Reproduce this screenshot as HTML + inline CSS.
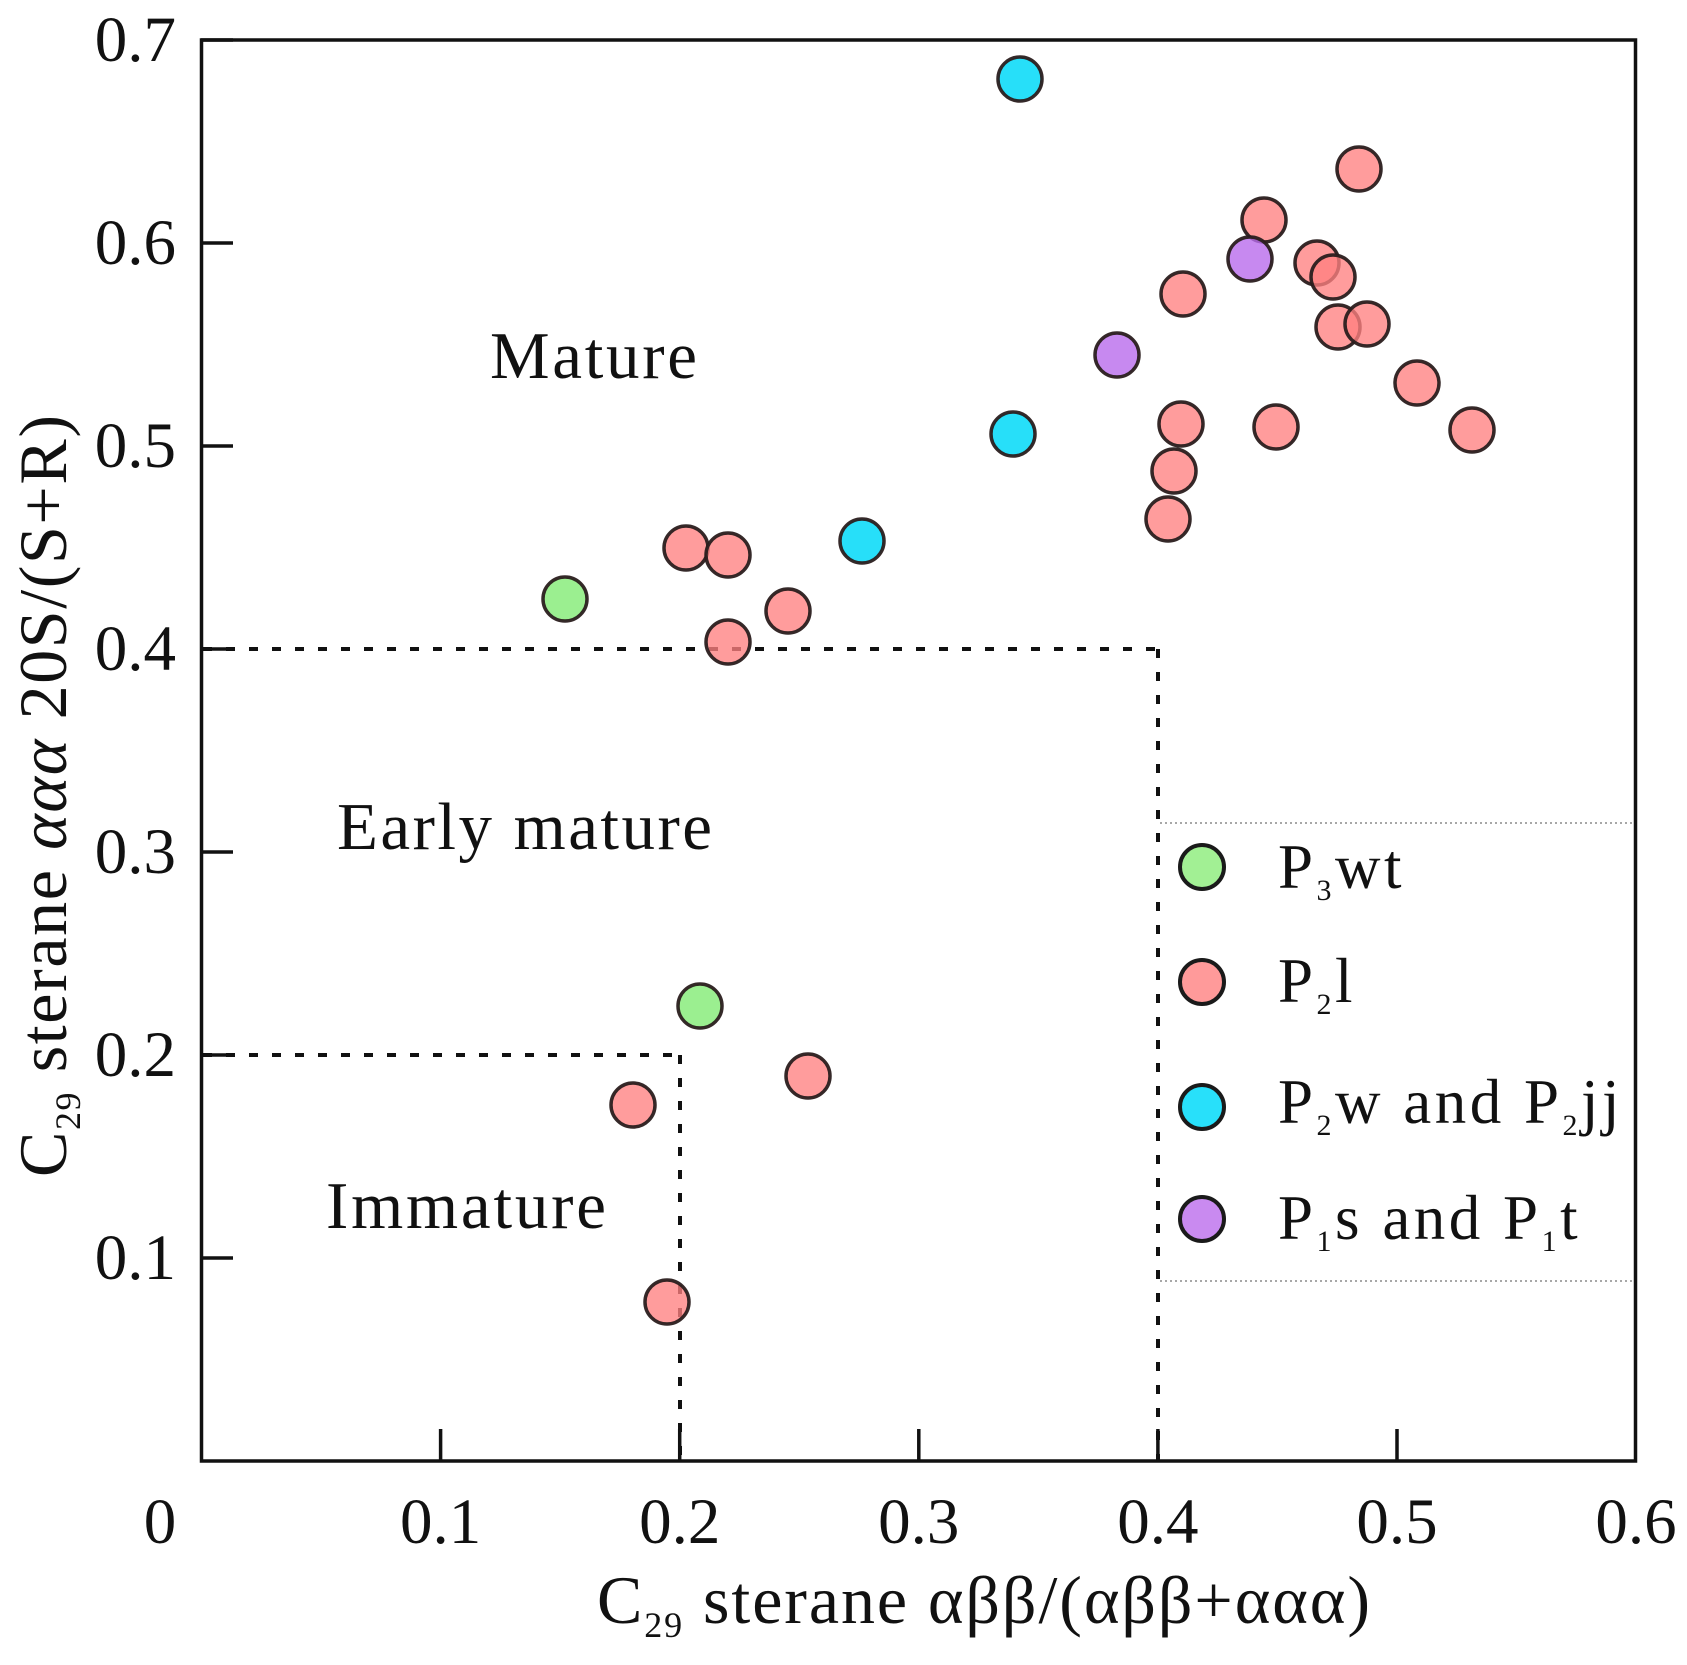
<!DOCTYPE html>
<html>
<head>
<meta charset="utf-8">
<style>
  html, body { margin: 0; padding: 0; background: #ffffff; }
  svg { display: block; }
  text { font-family: "Liberation Serif", "DejaVu Serif", serif; fill: #111; }
</style>
</head>
<body>
<svg width="1687" height="1665" viewBox="0 0 1687 1665" xmlns="http://www.w3.org/2000/svg">
  <rect x="0" y="0" width="1687" height="1665" fill="#ffffff"/>

  <!-- boundary dashed lines -->
  <g stroke="#111" stroke-width="4" stroke-dasharray="9 14" fill="none">
    <line x1="203" y1="649" x2="1158" y2="649"/>
    <line x1="1158" y1="649" x2="1158" y2="1461"/>
    <line x1="203" y1="1055" x2="680" y2="1055"/>
    <line x1="680" y1="1055" x2="680" y2="1461"/>
  </g>

  <!-- legend dotted box lines -->
  <g stroke="#8a8a8a" stroke-width="1.6" stroke-dasharray="2 3" fill="none">
    <line x1="1160" y1="823" x2="1633" y2="823"/>
    <line x1="1160" y1="1281" x2="1633" y2="1281"/>
  </g>

  <!-- axes box -->
  <rect x="201.5" y="40" width="1434" height="1421" fill="none" stroke="#111" stroke-width="3.5"/>

  <!-- y ticks -->
  <g stroke="#111" stroke-width="3.5">
    <line x1="201" y1="1258" x2="233" y2="1258"/>
    <line x1="201" y1="1055" x2="233" y2="1055"/>
    <line x1="201" y1="852" x2="233" y2="852"/>
    <line x1="201" y1="649" x2="233" y2="649"/>
    <line x1="201" y1="446" x2="233" y2="446"/>
    <line x1="201" y1="243" x2="233" y2="243"/>
    <line x1="201" y1="40" x2="233" y2="40"/>
  </g>
  <!-- x ticks -->
  <g stroke="#111" stroke-width="3.5">
    <line x1="440.6" y1="1461" x2="440.6" y2="1429"/>
    <line x1="679.7" y1="1461" x2="679.7" y2="1429"/>
    <line x1="918.8" y1="1461" x2="918.8" y2="1429"/>
    <line x1="1157.9" y1="1461" x2="1157.9" y2="1429"/>
    <line x1="1397" y1="1461" x2="1397" y2="1429"/>
  </g>

  <!-- y tick labels -->
  <g font-size="65" text-anchor="end">
    <text x="176" y="61">0.7</text>
    <text x="176" y="264">0.6</text>
    <text x="176" y="467">0.5</text>
    <text x="176" y="670">0.4</text>
    <text x="176" y="873">0.3</text>
    <text x="176" y="1076">0.2</text>
    <text x="176" y="1279">0.1</text>
  </g>

  <!-- x tick labels -->
  <g font-size="65" text-anchor="middle">
    <text x="160" y="1543">0</text>
    <text x="440.6" y="1543">0.1</text>
    <text x="679.7" y="1543">0.2</text>
    <text x="918.8" y="1543">0.3</text>
    <text x="1157.9" y="1543">0.4</text>
    <text x="1397" y="1543">0.5</text>
    <text x="1636" y="1543">0.6</text>
  </g>

  <!-- x axis title -->
  <text x="597" y="1623" font-size="68" textLength="773" lengthAdjust="spacing">C<tspan font-size="36" dy="14">29</tspan><tspan dy="-14"> sterane αββ/(αββ+ααα)</tspan></text>

  <!-- y axis title -->
  <text transform="translate(66,1177) rotate(-90)" x="0" y="0" font-size="68" textLength="762" lengthAdjust="spacing">C<tspan font-size="36" dy="14">29</tspan><tspan dy="-14"> sterane </tspan><tspan font-style="italic">ααα</tspan><tspan> 20S/(S+R)</tspan></text>

  <!-- region labels -->
  <g font-size="67">
    <text x="490" y="378" textLength="207" lengthAdjust="spacing">Mature</text>
    <text x="337" y="849" textLength="375" lengthAdjust="spacing">Early mature</text>
    <text x="326" y="1228" textLength="280" lengthAdjust="spacing">Immature</text>
  </g>

  <!-- data points -->
  <g stroke="#2a1e1e" stroke-width="3.5" stroke-opacity="0.95">
    <!-- P2l red -->
    <g fill="#ff8080" fill-opacity="0.78">
      <circle cx="686" cy="548" r="22"/>
      <circle cx="728" cy="555" r="22"/>
      <circle cx="788" cy="611" r="22"/>
      <circle cx="728" cy="642" r="22"/>
      <circle cx="633" cy="1105" r="22"/>
      <circle cx="808" cy="1076" r="22"/>
      <circle cx="667" cy="1302" r="22"/>
      <circle cx="1359" cy="169" r="22"/>
      <circle cx="1264" cy="220" r="22"/>
      <circle cx="1317" cy="263" r="22"/>
      <circle cx="1333" cy="277" r="22"/>
      <circle cx="1183" cy="294" r="22"/>
      <circle cx="1338" cy="327" r="22"/>
      <circle cx="1367" cy="324" r="22"/>
      <circle cx="1417" cy="383" r="22"/>
      <circle cx="1472" cy="430" r="22"/>
      <circle cx="1181" cy="424" r="22"/>
      <circle cx="1276" cy="427" r="22"/>
      <circle cx="1174" cy="471" r="22"/>
      <circle cx="1168" cy="519" r="22"/>
    </g>
    <!-- P3wt green -->
    <g fill="#8aec7c" fill-opacity="0.85">
      <circle cx="565" cy="599" r="22"/>
      <circle cx="700" cy="1006" r="22"/>
    </g>
    <!-- P2w and P2jj cyan -->
    <g fill="#10dcf8" fill-opacity="0.9">
      <circle cx="1020" cy="79" r="22"/>
      <circle cx="1013" cy="434" r="22"/>
      <circle cx="862" cy="541" r="22"/>
    </g>
    <!-- P1s and P1t purple -->
    <g fill="#b96cec" fill-opacity="0.8">
      <circle cx="1250" cy="259" r="22"/>
      <circle cx="1117" cy="355" r="22"/>
    </g>
  </g>

  <!-- legend -->
  <g stroke="#1a1a1a" stroke-width="4">
    <circle cx="1202" cy="867" r="22" fill="#a2f094"/>
    <circle cx="1202" cy="982" r="22" fill="#ff9a9a"/>
    <circle cx="1202" cy="1107" r="22" fill="#28e0fa"/>
    <circle cx="1202" cy="1219" r="22" fill="#c98af0"/>
  </g>
  <g font-size="63" letter-spacing="3.5">
    <text x="1278" y="888">P<tspan font-size="30" dy="12">3</tspan><tspan dy="-12">wt</tspan></text>
    <text x="1278" y="1002">P<tspan font-size="30" dy="12">2</tspan><tspan dy="-12">l</tspan></text>
    <text x="1278" y="1123">P<tspan font-size="30" dy="12">2</tspan><tspan dy="-12">w and P</tspan><tspan font-size="30" dy="12">2</tspan><tspan dy="-12">jj</tspan></text>
    <text x="1278" y="1239">P<tspan font-size="30" dy="12">1</tspan><tspan dy="-12">s and P</tspan><tspan font-size="30" dy="12">1</tspan><tspan dy="-12">t</tspan></text>
  </g>
</svg>
</body>
</html>
